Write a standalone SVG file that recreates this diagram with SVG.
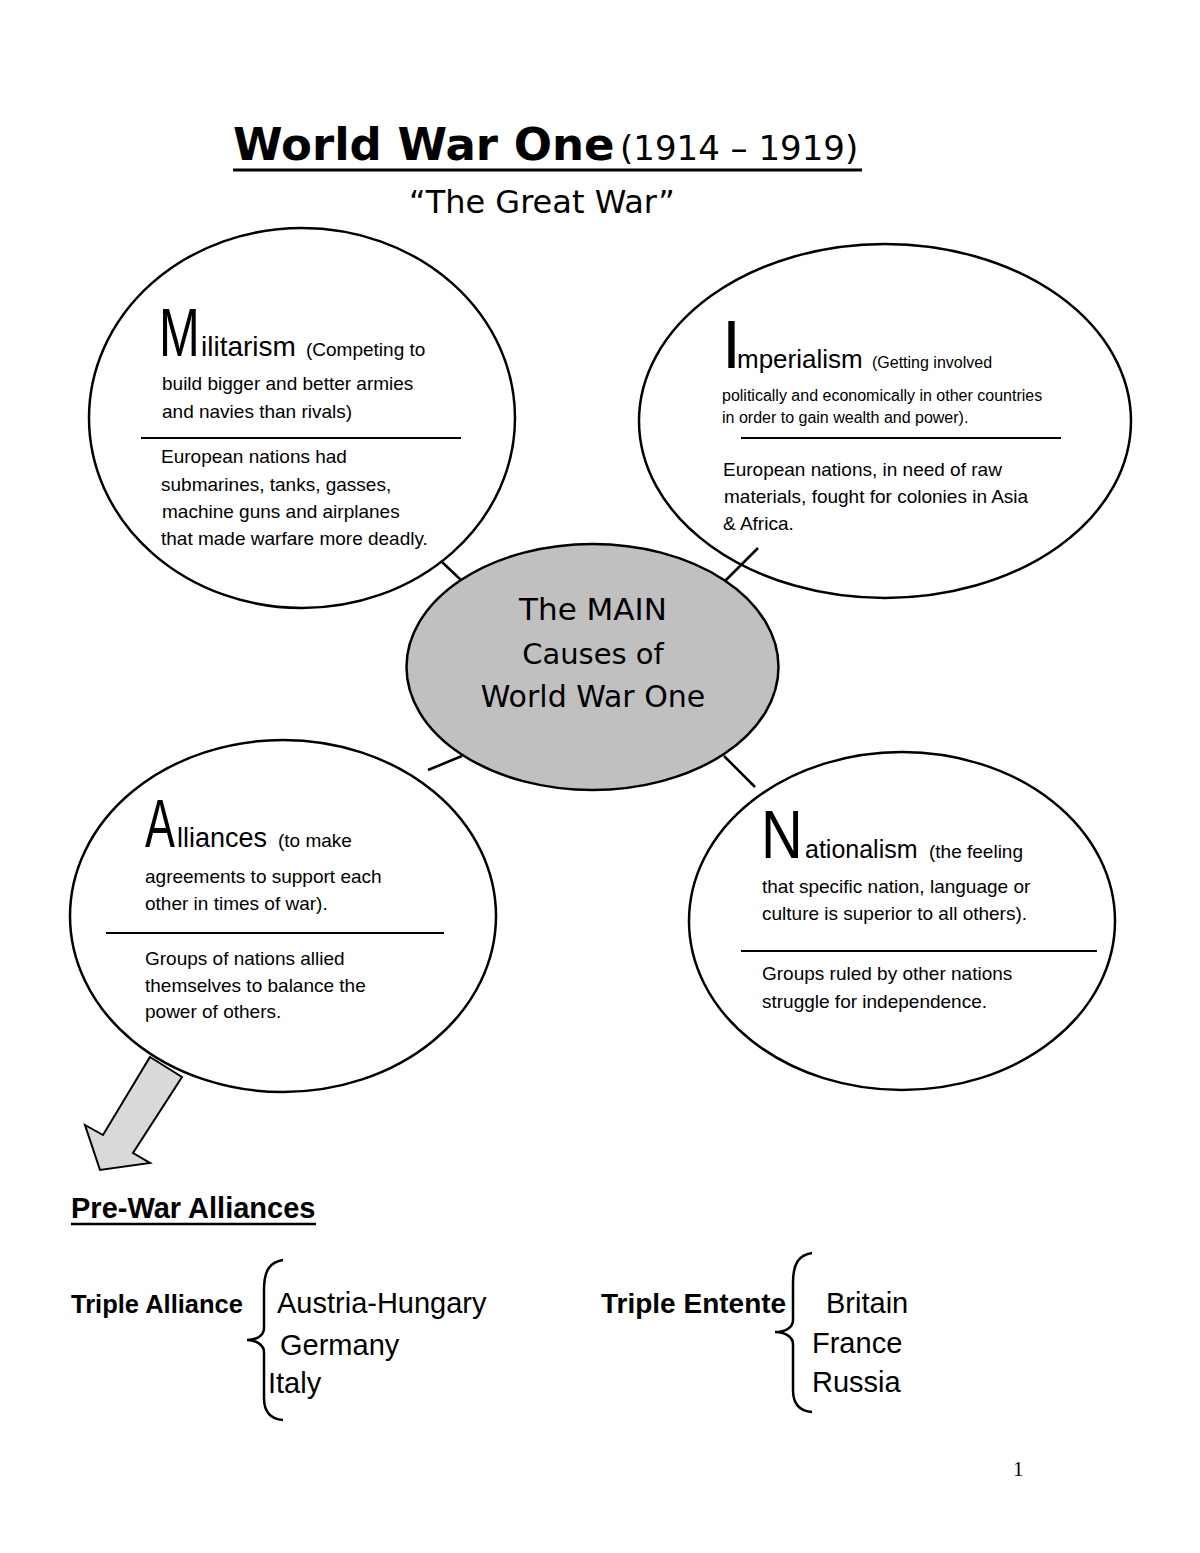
<svg xmlns="http://www.w3.org/2000/svg" width="1200" height="1553" viewBox="0 0 1200 1553">
<style>
.bg{fill:#ffffff}
.ring{fill:none;stroke:#000;stroke-width:2.5}
.hub{fill:#c0c0c0;stroke:#000;stroke-width:2.5}
.sep{stroke:#000;stroke-width:2.2}
.link{stroke:#000;stroke-width:2.5;fill:none}
.big{font-family:"Liberation Sans",Arial,sans-serif;fill:#000}
.t{font-family:"Liberation Sans",Arial,sans-serif;font-size:19px;fill:#000}
.ts{font-family:"Liberation Sans",Arial,sans-serif;font-size:16px;fill:#000}
.comic{font-family:"DejaVu Sans",Verdana,sans-serif;fill:#000}
.b{font-family:"Liberation Sans",Arial,sans-serif;font-weight:bold;fill:#000}
.item{font-family:"Liberation Sans",Arial,sans-serif;font-size:29px;fill:#000}
</style>
<rect class="bg" x="0" y="0" width="1200" height="1553"/>

<g id="title">
  <text class="comic" x="233" y="160" font-size="45" font-weight="bold">World War One</text>
  <text class="comic" x="620" y="160" font-size="34">(1914 – 1919)</text>
  <line x1="233" y1="170" x2="862" y2="170" stroke="#000" stroke-width="3"/>
  <text class="comic" x="542" y="213" font-size="32" text-anchor="middle">“The Great War”</text>
</g>

<g id="connectors">
  <line class="link" x1="442" y1="562" x2="462" y2="581"/>
  <line class="link" x1="758" y1="548" x2="724" y2="582"/>
  <line class="link" x1="428" y1="770" x2="462" y2="756"/>
  <line class="link" x1="724" y1="756" x2="755" y2="787"/>
  <polygon points="150,1057 182,1077 133,1153 150,1163 100,1170 85,1125 103,1135" fill="#d9d9d9" stroke="#000" stroke-width="2"/>
</g>

<g id="node-militarism">
  <ellipse class="ring" cx="302" cy="418" rx="213" ry="190"/>
  <text class="big" transform="translate(159,356) scale(0.72,1)" font-size="68">M</text>
  <text class="big" x="201" y="356" font-size="28">ilitarism</text>
  <text class="t" x="306" y="356">(Competing to</text>
  <text class="t" x="162" y="390">build bigger and better armies</text>
  <text class="t" x="162" y="418">and navies than rivals)</text>
  <line class="sep" x1="141" y1="438" x2="461" y2="438"/>
  <text class="t" x="161" y="463">European nations had</text>
  <text class="t" x="161" y="491">submarines, tanks, gasses,</text>
  <text class="t" x="162" y="518">machine guns and airplanes</text>
  <text class="t" x="161" y="545">that made warfare more deadly.</text>
</g>

<g id="node-imperialism">
  <ellipse class="ring" cx="885" cy="421" rx="246" ry="177"/>
  <text class="big" x="722" y="368" font-size="68">I</text>
  <text class="big" x="737" y="368" font-size="26">mperialism</text>
  <text class="ts" x="872" y="368">(Getting involved</text>
  <text class="ts" x="722" y="401">politically and economically in other countries</text>
  <text class="ts" x="722" y="423">in order to gain wealth and power).</text>
  <line class="sep" x1="741" y1="438" x2="1061" y2="438"/>
  <text class="t" x="723" y="476">European nations, in need of raw</text>
  <text class="t" x="724" y="503">materials, fought for colonies in Asia</text>
  <text class="t" x="723" y="530">&amp; Africa.</text>
</g>

<g id="node-alliances">
  <ellipse class="ring" cx="283" cy="916" rx="213" ry="176"/>
  <text class="big" transform="translate(145,847) scale(0.66,1)" font-size="68">A</text>
  <text class="big" x="177" y="847" font-size="27">lliances</text>
  <text class="t" x="278" y="847">(to make</text>
  <text class="t" x="145" y="883">agreements to support each</text>
  <text class="t" x="145" y="910">other in times of war).</text>
  <line class="sep" x1="106" y1="933" x2="444" y2="933"/>
  <text class="t" x="145" y="965">Groups of nations allied</text>
  <text class="t" x="145" y="992">themselves to balance the</text>
  <text class="t" x="145" y="1018">power of others.</text>
</g>

<g id="node-nationalism">
  <ellipse class="ring" cx="902" cy="921" rx="213" ry="169"/>
  <text class="big" transform="translate(761,858) scale(0.85,1)" font-size="68">N</text>
  <text class="big" x="805" y="858" font-size="25">ationalism</text>
  <text class="t" x="929" y="858">(the feeling</text>
  <text class="t" x="762" y="893">that specific nation, language or</text>
  <text class="t" x="762" y="920">culture is superior to all others).</text>
  <line class="sep" x1="741" y1="951" x2="1097" y2="951"/>
  <text class="t" x="762" y="980">Groups ruled by other nations</text>
  <text class="t" x="762" y="1008">struggle for independence.</text>
</g>

<g id="node-center">
  <ellipse class="hub" cx="592.5" cy="667" rx="186" ry="123"/>
  <text class="comic" x="593" y="620" font-size="31" text-anchor="middle">The MAIN</text>
  <text class="comic" x="593" y="664" font-size="29" text-anchor="middle">Causes of</text>
  <text class="comic" x="593" y="707" font-size="30" text-anchor="middle">World War One</text>
</g>

<g id="prewar">
  <text class="b" x="71" y="1218" font-size="29">Pre-War Alliances</text>
  <line x1="71" y1="1224" x2="316" y2="1224" stroke="#000" stroke-width="2.5"/>
  <text class="b" x="71" y="1313" font-size="25.5">Triple Alliance</text>
  <path d="M283,1260 C270,1262 264,1270 264,1290 L264,1328 C264,1336 256,1340 247,1340 C256,1340 264,1345 264,1352 L264,1398 C264,1412 270,1419 283,1420" fill="none" stroke="#000" stroke-width="2.5"/>
  <text class="item" x="277" y="1313">Austria-Hungary</text>
  <text class="item" x="280" y="1355">Germany</text>
  <text class="item" x="268" y="1393">Italy</text>
  <text class="b" x="601" y="1313" font-size="28">Triple Entente</text>
  <path d="M812,1253 C799,1255 793,1263 793,1283 L793,1320 C793,1328 785,1332 775,1332 C785,1332 793,1337 793,1344 L793,1390 C793,1404 799,1411 812,1412" fill="none" stroke="#000" stroke-width="2.5"/>
  <text class="item" x="826" y="1313">Britain</text>
  <text class="item" x="812" y="1353">France</text>
  <text class="item" x="812" y="1392">Russia</text>
</g>

<g id="page-number">
  <text x="1013" y="1476" font-family="'Liberation Serif','Times New Roman',serif" font-size="21">1</text>
</g>
</svg>
